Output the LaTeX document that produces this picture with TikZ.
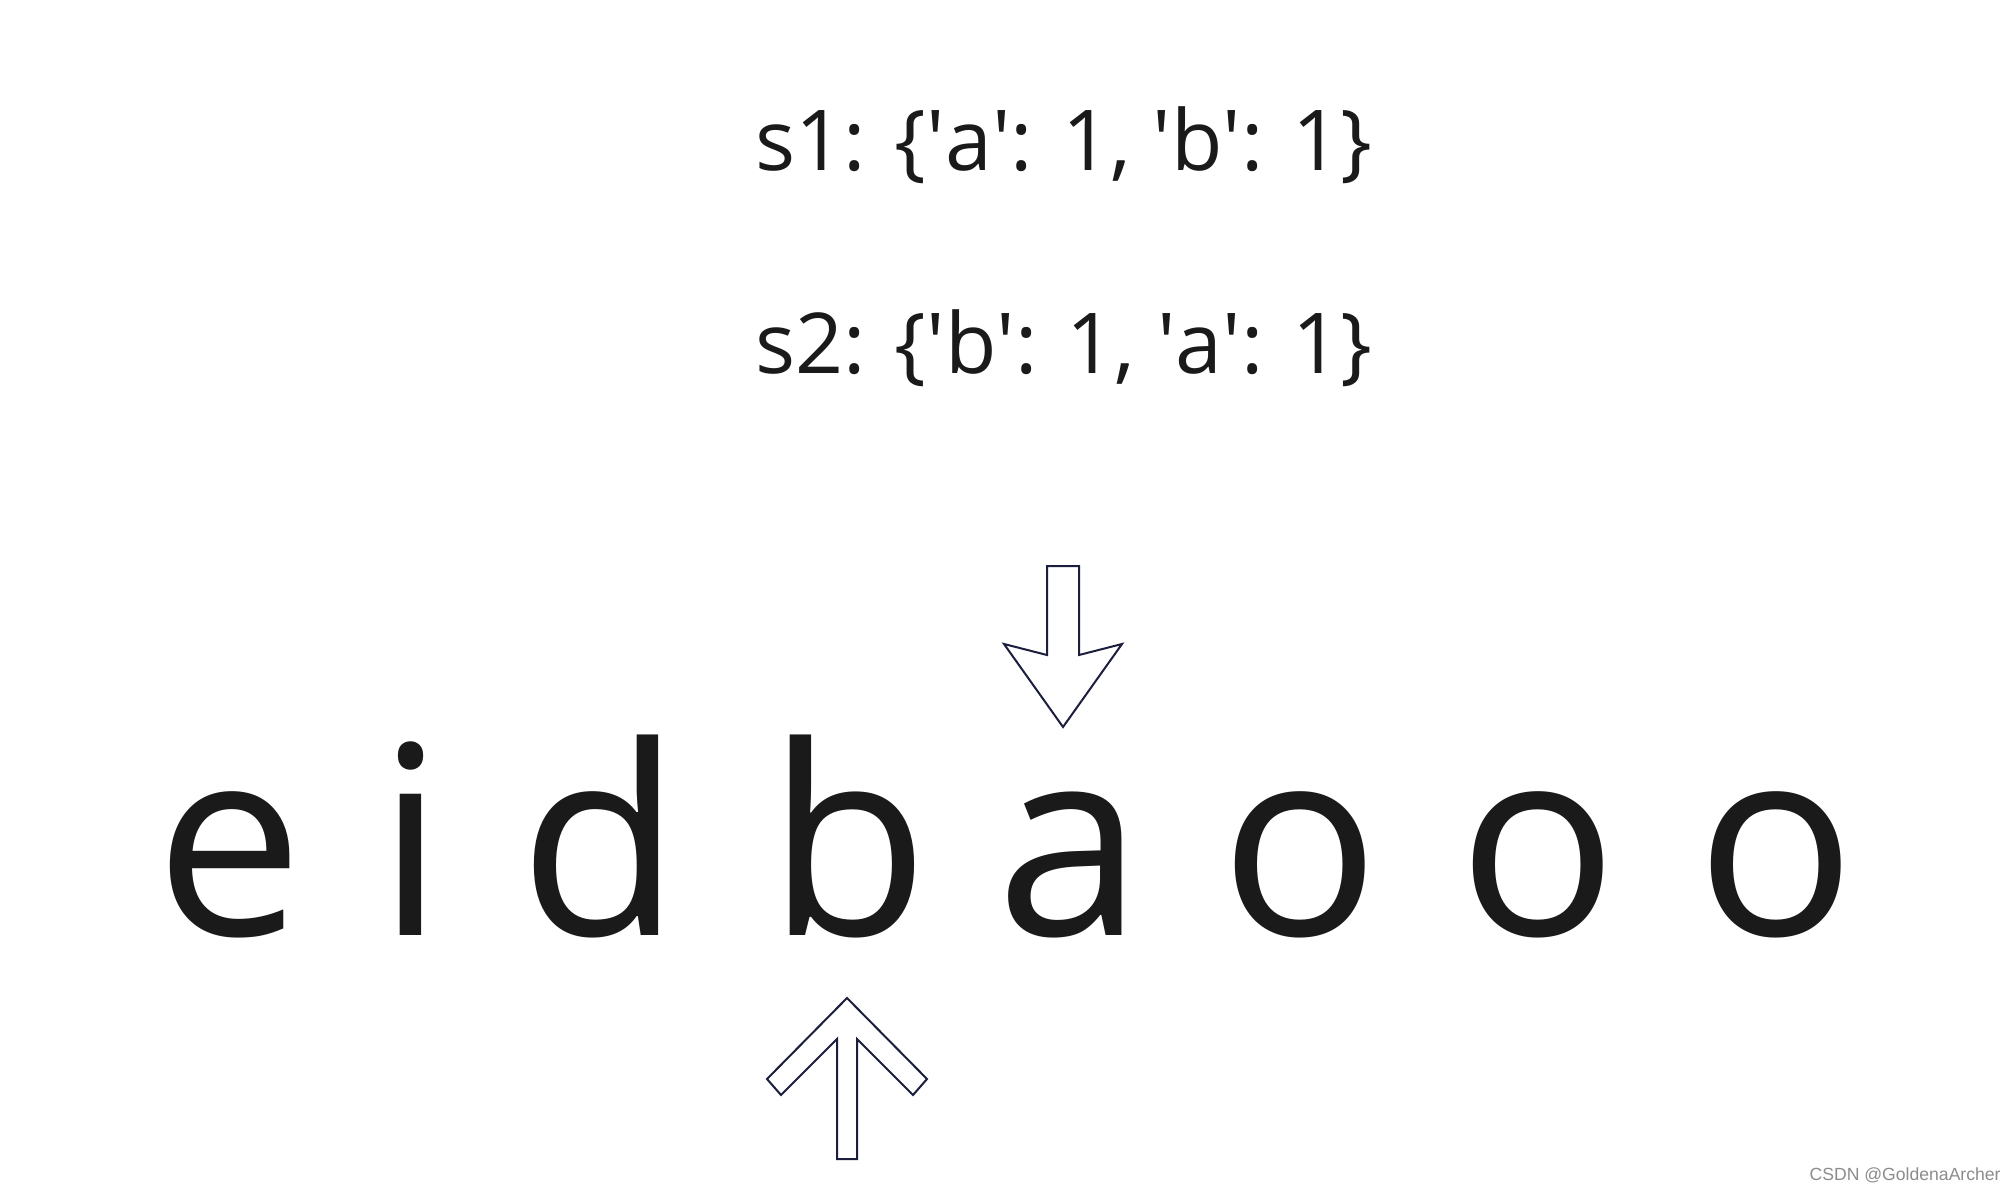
\documentclass[tikz,border=0pt]{standalone}
\usepackage{fontspec}
\setmainfont{Open Sans}
\newfontfamily\wmfont{Liberation Sans}
\definecolor{ink}{HTML}{1A1A1A}
\definecolor{navy}{HTML}{1B1E3C}
\newcommand{\sq}{\textquotesingle}
\tikzset{
  dictline/.style={anchor=base west, inner sep=0pt, text=ink,
    font=\fontsize{42}{50}\selectfont},
  bigchar/.style={anchor=base, inner sep=0pt, text=ink,
    font=\fontsize{132}{160}\selectfont},
  hollow/.style={draw=navy, line width=1pt, line join=miter, fill=white},
}
\begin{document}
\begin{tikzpicture}[x=0.5pt, y=-0.5pt]
      \useasboundingbox[fill=white] (0,0) rectangle (2016,1192);
      \draw
        (755,171) node[dictline] (s1){s1: \{\sq a\sq: 1, \sq b\sq: 1\}}
        (755,373) node[dictline] (s2){s2: \{\sq b\sq: 1, \sq a\sq: 1\}};
      \foreach \ch/\x [count=\k] in {e/230, i/411, d/600, b/848, a/1070, o/1300, o/1538, o/1776}
        \node[bigchar] (c\k) at (\x,935) {\ch};
      \begin{scope}[hollow]
        % pointer on the a
        \draw (1047,566) -- (1079,566) -- (1079,655) -- (1122,644)
          -- (1063,727) -- (1004,644) -- (1047,655) -- cycle;
        % pointer under the b
        \draw (847,998) -- (927,1079) -- (913,1095) -- (857,1039)
          -- (857,1159) -- (837,1159) -- (837,1039) -- (781,1095)
          -- (767,1079) -- cycle;
      \end{scope}
      \node[anchor=east, inner sep=0pt, text=black!45,
        font=\wmfont\fontsize{8.8}{10}\selectfont] (mark) at (2001,1175) {CSDN @GoldenaArcher};
    \end{tikzpicture}
\end{document}
